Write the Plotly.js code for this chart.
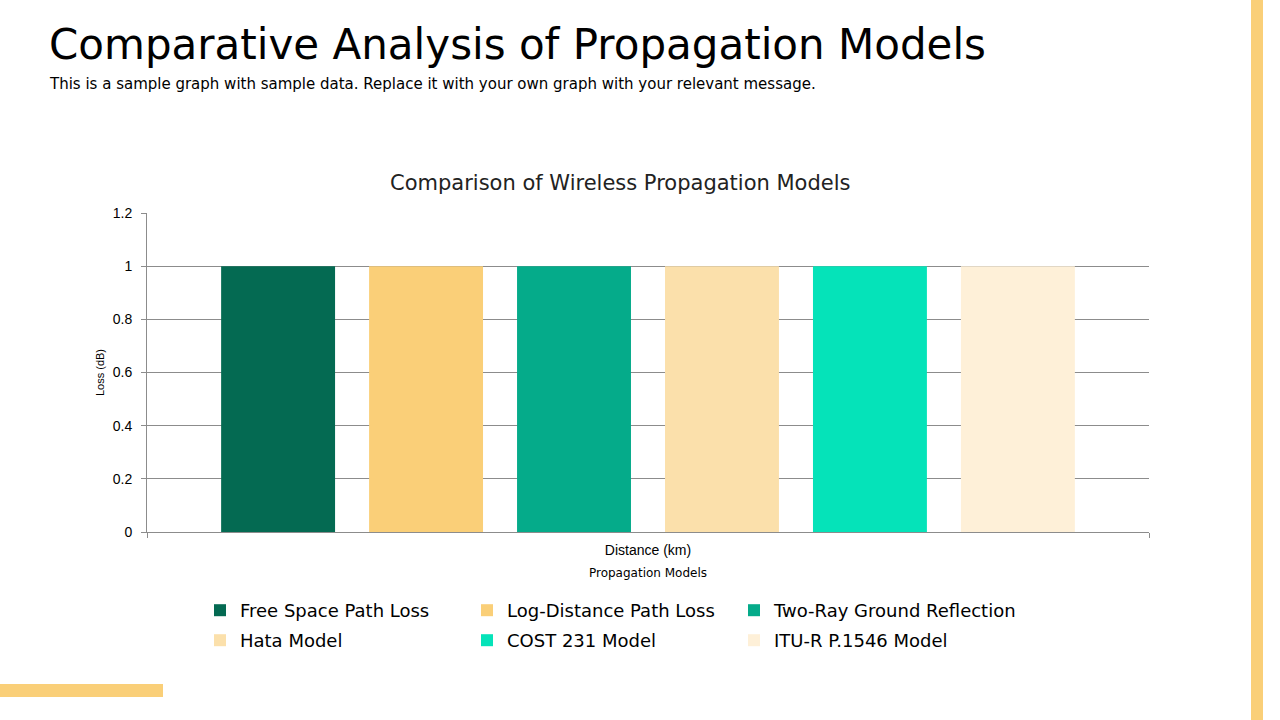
<!DOCTYPE html>
<html>
<head>
<meta charset="utf-8">
<script src="https://cdn.plot.ly/plotly-3.0.1.min.js"></script>
<style>
  html, body { margin: 0; padding: 0; background: #ffffff; overflow: hidden; }
  #chart { width: 1280px; height: 720px; }
</style>
</head>
<body>
<div id="chart"></div>
<script>
// ---- Data ----
const categories = ["Distance (km)"];
const seriesNames = [
  "Free Space Path Loss",
  "Log-Distance Path Loss",
  "Two-Ray Ground Reflection",
  "Hata Model",
  "COST 231 Model",
  "ITU-R P.1546 Model"
];
const seriesValues = [1, 1, 1, 1, 1, 1];
const seriesColors = ["#046A52", "#FACF78", "#05AB8A", "#FBE0AB", "#05E3B9", "#FEF0D8"];
const yTickValues = [0, 0.2, 0.4, 0.6, 0.8, 1, 1.2];

const pageTitle = "Comparative Analysis of Propagation Models";
const pageSubtitle = "This is a sample graph with sample data. Replace it with your own graph with your relevant message.";
const chartTitle = "Comparison of Wireless Propagation Models";
const xAxisTitle = "Propagation Models";
const yAxisTitle = "Loss (dB)";

// ---- Layout helpers (pixel -> paper coordinates) ----
const W = 1280, H = 720;
const M = { l: 147, r: 131, t: 213, b: 188 };
const PW = W - M.l - M.r, PH = H - M.t - M.b;
const px = v => (v - M.l) / PW;
const py = v => (H - M.b - v) / PH;

const gothic = "'DejaVu Sans', 'Noto Sans', sans-serif";
const arial = "'Liberation Sans', Arial, sans-serif";

const traces = seriesNames.map((name, i) => {
  const t = {
    type: "bar",
    name: name,
    x: categories,
    y: [seriesValues[i]],
    legend: i < 3 ? "legend" : "legend2",
    marker: { color: seriesColors[i], line: { width: 0 } },
    hoverinfo: "name+y"
  };
  if (i % 3 === 2) t.legendwidth = 300;
  return t;
});

const legendBase = {
  orientation: "h",
  xanchor: "left",
  yanchor: "top",
  entrywidth: 222,
  entrywidthmode: "pixels",
  itemwidth: 30,
  font: { family: gothic, size: 18, color: "#000000" },
  bgcolor: "rgba(0,0,0,0)",
  borderwidth: 0
};

const layout = {
  width: W,
  height: H,
  margin: { l: M.l, r: M.r, t: M.t, b: M.b, pad: 0 },
  paper_bgcolor: "#ffffff",
  plot_bgcolor: "#ffffff",
  showlegend: true,
  barmode: "group",
  bargap: 0.114,
  bargroupgap: 0.23,
  xaxis: {
    type: "category",
    automargin: false,
    showline: true,
    linecolor: "#8c8c8c",
    linewidth: 1,
    ticks: "outside",
    tickson: "boundaries",
    ticklen: 5,
    tickcolor: "#8c8c8c",
    ticklabelstandoff: 5,
    showgrid: false,
    tickfont: { family: arial, size: 14, color: "#000000" },
    title: { text: xAxisTitle, font: { family: gothic, size: 12, color: "#000000" }, standoff: 11 },
    fixedrange: true
  },
  yaxis: {
    automargin: false,
    range: [0, 1.2],
    tickvals: yTickValues,
    showline: true,
    linecolor: "#8c8c8c",
    linewidth: 1,
    ticks: "outside",
    ticklen: 5,
    tickcolor: "#8c8c8c",
    ticklabelstandoff: 6,
    showgrid: true,
    gridcolor: "#8c8c8c",
    gridwidth: 1,
    zeroline: false,
    tickfont: { family: arial, size: 14, color: "#000000" },
    title: { text: yAxisTitle, font: { family: arial, size: 11, color: "#000000" }, standoff: 5 },
    fixedrange: true
  },
  legend: Object.assign({}, legendBase, { x: px(200), y: py(592) }),
  legend2: Object.assign({}, legendBase, { x: px(200), y: py(622) }),
  annotations: [
    {
      text: pageTitle, xref: "paper", yref: "paper",
      x: px(47), y: py(45), xanchor: "left", yanchor: "middle",
      showarrow: false, font: { family: gothic, size: 42, color: "#000000" }
    },
    {
      text: pageSubtitle, xref: "paper", yref: "paper",
      x: px(47), y: py(84), xanchor: "left", yanchor: "middle",
      showarrow: false, font: { family: gothic, size: 15, color: "#000000" }
    },
    {
      text: chartTitle, xref: "paper", yref: "paper",
      x: px(620), y: py(183), xanchor: "center", yanchor: "middle",
      showarrow: false, font: { family: gothic, size: 21, color: "#222222" }
    }
  ],
  shapes: [
    {
      type: "rect", xref: "paper", yref: "paper",
      x0: px(1251), x1: px(1263), y0: py(720), y1: py(0),
      fillcolor: "#FACF78", line: { width: 0 }, layer: "below"
    },
    {
      type: "rect", xref: "paper", yref: "paper",
      x0: px(0), x1: px(163), y0: py(697), y1: py(684),
      fillcolor: "#FACF78", line: { width: 0 }, layer: "below"
    }
  ]
};

Plotly.newPlot("chart", traces, layout, { displayModeBar: false, staticPlot: true });
</script>
</body>
</html>
